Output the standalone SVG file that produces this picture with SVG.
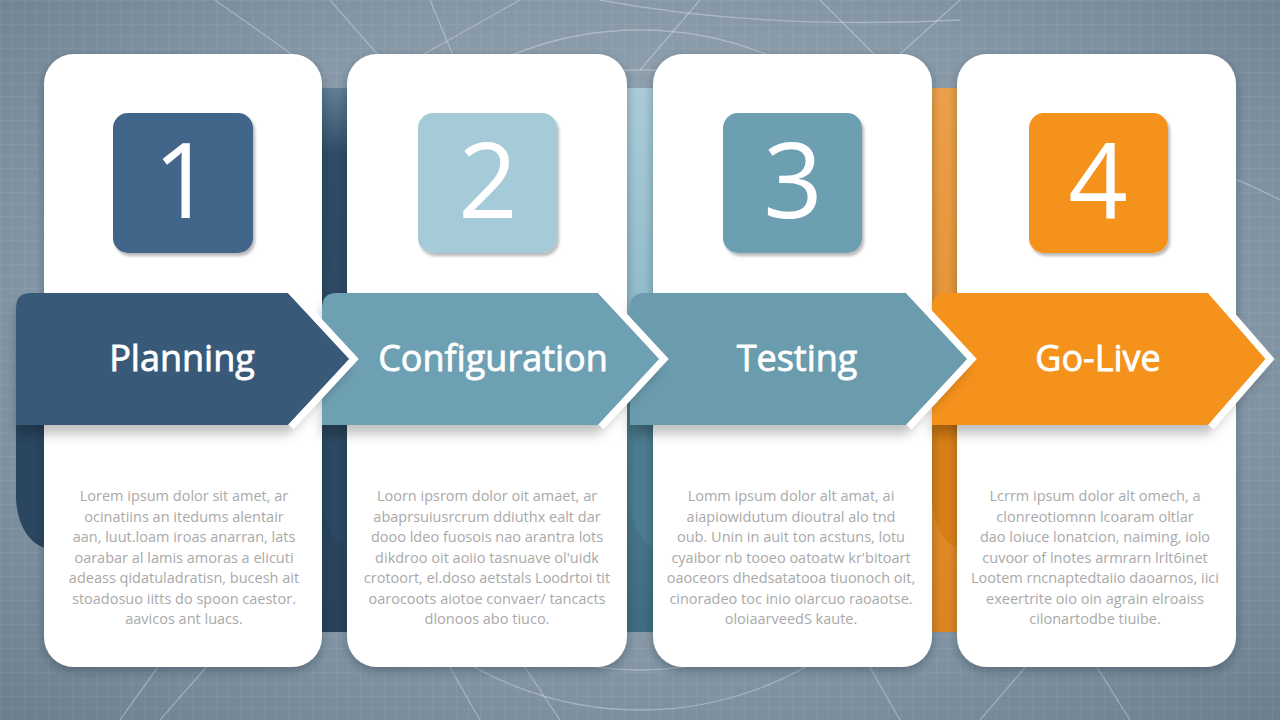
<svg xmlns="http://www.w3.org/2000/svg" width="1280" height="720" viewBox="0 0 1280 720">
  <defs>
    <radialGradient id="bg" cx="50%" cy="45%" r="75%">
      <stop offset="0" stop-color="#a3b1bd"/>
      <stop offset="0.6" stop-color="#8698a7"/>
      <stop offset="1" stop-color="#6a7e8e"/>
    </radialGradient>
    <pattern id="grid" width="12" height="12" patternUnits="userSpaceOnUse">
      <path d="M12 0H0V12" fill="none" stroke="#ffffff" stroke-opacity="0.10" stroke-width="1"/>
    </pattern>
    <linearGradient id="stripNavy" x1="0" y1="0" x2="0" y2="1">
      <stop offset="0" stop-color="#5e7f95"/>
      <stop offset="0.12" stop-color="#2f4c66"/>
      <stop offset="1" stop-color="#27425a"/>
    </linearGradient>
    <linearGradient id="stripTeal" x1="0" y1="0" x2="0" y2="1">
      <stop offset="0" stop-color="#a9cbd7"/>
      <stop offset="0.45" stop-color="#8fb9c9"/>
      <stop offset="0.6" stop-color="#4f7e92"/>
      <stop offset="1" stop-color="#3f6b80"/>
    </linearGradient>
    <linearGradient id="stripOrange" x1="0" y1="0" x2="0" y2="1">
      <stop offset="0" stop-color="#eca04a"/>
      <stop offset="1" stop-color="#dd8420"/>
    </linearGradient>
    <filter id="cardShadow" x="-10%" y="-10%" width="120%" height="120%">
      <feDropShadow dx="0" dy="4" stdDeviation="5" flood-color="#1c2a36" flood-opacity="0.35"/>
    </filter>
    <filter id="sqShadow" x="-10%" y="-10%" width="125%" height="125%">
      <feDropShadow dx="2" dy="3" stdDeviation="1.5" flood-color="#000000" flood-opacity="0.28"/>
    </filter>
    <filter id="arrowShadow" x="-10%" y="-10%" width="120%" height="140%">
      <feDropShadow dx="0" dy="9" stdDeviation="6" flood-color="#000000" flood-opacity="0.25"/>
    </filter>
    <style>
      .card { fill: #ffffff; filter: url(#cardShadow); }
      .num { font-family: "Open Sans", "Noto Sans", "DejaVu Sans", sans-serif; font-size: 104px; fill: #ffffff; text-anchor: middle; }
      .label { font-family: "Open Sans", "Noto Sans", "DejaVu Sans", sans-serif; font-size: 36px; font-weight: 400; fill: #ffffff; stroke: #ffffff; stroke-width: 0.8; text-anchor: middle; }
      .body { font-family: "Open Sans", "Noto Sans", "DejaVu Sans", sans-serif; font-size: 14.5px; fill: #a9a9a9; text-anchor: middle; }
      .edge { fill: none; stroke: #ffffff; stroke-width: 7; stroke-linejoin: miter; }
      .deco { fill: none; stroke: #ffffff; stroke-opacity: 0.3; stroke-width: 1.3; }
    </style>
  </defs>

  <!-- background -->
  <rect width="1280" height="720" fill="url(#bg)"/>
  <rect width="1280" height="720" fill="url(#grid)"/>
  <g id="decor">
    <circle class="deco" cx="640" cy="370" r="340"/>
    <circle class="deco" cx="640" cy="370" r="300" stroke-opacity="0.18"/>
    <path class="deco" d="M215 0 L300 60 M330 0 L400 80 M520 0 L360 90 M700 0 L640 70 M820 0 L900 80 M960 0 L860 90 M430 0 L455 60"/>
    <path class="deco" d="M120 720 L170 650 M160 720 L230 640 M480 720 L440 650 M560 720 L520 660 M900 720 L860 650 M980 720 L1040 650 M1130 720 L1080 640"/>
    <path class="deco" d="M600 0 Q760 30 960 20 M1000 160 Q1150 130 1280 200" stroke-opacity="0.18"/>
  </g>

  <!-- colored strips behind cards -->
  <g id="strips">
    <rect x="320" y="88" width="30" height="544" fill="url(#stripNavy)"/>
    <rect x="625" y="88" width="31" height="544" fill="url(#stripTeal)"/>
    <rect x="930" y="88" width="30" height="544" fill="url(#stripOrange)"/>
  </g>

  <!-- ribbon curls -->
  <g id="curls">
    <path d="M16 425 H46 V548 C28 544 16 522 16 495 Z" fill="#2a4660"/>
    <path d="M322 425 H349 V548 C333 544 322 522 322 495 Z" fill="#2c4862"/>
    <path d="M630 425 H655 V548 C640 544 630 522 630 495 Z" fill="#4b7b8f"/>
    <path d="M932 425 H959 V548 C943 544 932 522 932 495 Z" fill="#d97e16"/>
  </g>

  <!-- cards -->
  <g id="card1"><rect class="card" x="44" y="54" width="278" height="613" rx="30"/></g>
  <g id="card2"><rect class="card" x="347" y="54" width="280" height="613" rx="30"/></g>
  <g id="card3"><rect class="card" x="653" y="54" width="279" height="613" rx="30"/></g>
  <g id="card4"><rect class="card" x="957" y="54" width="279" height="613" rx="30"/></g>

  <!-- number squares -->
  <g id="step1-number">
    <rect x="113" y="113" width="140" height="140" rx="15" fill="#42668a" filter="url(#sqShadow)"/>
    <text class="num" x="183" y="218">1</text>
  </g>
  <g id="step2-number">
    <rect x="418" y="113" width="139" height="140" rx="15" fill="#a5cad8" filter="url(#sqShadow)"/>
    <text class="num" x="488" y="218">2</text>
  </g>
  <g id="step3-number">
    <rect x="723" y="113" width="139" height="140" rx="15" fill="#6c9fb2" filter="url(#sqShadow)"/>
    <text class="num" x="793" y="218">3</text>
  </g>
  <g id="step4-number">
    <rect x="1029" y="113" width="139" height="140" rx="15" fill="#f5921a" filter="url(#sqShadow)"/>
    <text class="num" x="1098" y="218">4</text>
  </g>

  <!-- arrow banners (connectors of the flow), drawn right to left so each tip overlaps the next -->
  <g id="connectors">
    <g id="arrow4">
      <path d="M947 293 H1208 L1266 359 L1208 425 H932 V308 Q932 293 947 293 Z" fill="#f5921a" filter="url(#arrowShadow)"/>
      <polyline class="edge" points="1211,291 1270,359 1211,427"/>
      <text class="label" x="1098" y="371">Go-Live</text>
    </g>
    <g id="arrow3">
      <path d="M645 293 H906 L968 359 L906 425 H630 V308 Q630 293 645 293 Z" fill="#6b9cae" filter="url(#arrowShadow)"/>
      <polyline class="edge" points="909,291 972,359 909,427"/>
      <text class="label" x="797" y="371">Testing</text>
    </g>
    <g id="arrow2">
      <path d="M337 293 H598 L660 359 L598 425 H322 V308 Q322 293 337 293 Z" fill="#6ea0b3" filter="url(#arrowShadow)"/>
      <polyline class="edge" points="601,291 664,359 601,427"/>
      <text class="label" x="493" y="371">Configuration</text>
    </g>
    <g id="arrow1">
      <path d="M31 293 H288 L350 359 L288 425 H16 V308 Q16 293 31 293 Z" fill="#395a78" filter="url(#arrowShadow)"/>
      <polyline class="edge" points="291,291 354,359 291,427"/>
      <text class="label" x="182" y="371">Planning</text>
    </g>
  </g>

  <!-- body texts -->
  <g id="step1-text" class="body">
    <text x="184" y="501">Lorem ipsum dolor sit amet, ar</text>
    <text x="184" y="521.5">ocinatiins an itedums alentair</text>
    <text x="184" y="542">aan, luut.loam iroas anarran, lats</text>
    <text x="184" y="562.5">oarabar al lamis amoras a elicuti</text>
    <text x="184" y="583">adeass qidatuladratisn, bucesh ait</text>
    <text x="184" y="603.5">stoadosuo iitts do spoon caestor.</text>
    <text x="184" y="624">aavicos ant luacs.</text>
  </g>
  <g id="step2-text" class="body">
    <text x="487" y="501">Loorn ipsrom dolor oit amaet, ar</text>
    <text x="487" y="521.5">abaprsuiusrcrum ddiuthx ealt dar</text>
    <text x="487" y="542">dooo ldeo fuosois nao arantra lots</text>
    <text x="487" y="562.5">dikdroo oit aoiio tasnuave ol'uidk</text>
    <text x="487" y="583">crotoort, el.doso aetstals Loodrtoi tit</text>
    <text x="487" y="603.5">oarocoots aiotoe convaer/ tancacts</text>
    <text x="487" y="624">dlonoos abo tiuco.</text>
  </g>
  <g id="step3-text" class="body">
    <text x="791" y="501">Lomm ipsum dolor alt amat, ai</text>
    <text x="791" y="521.5">aiapiowidutum dioutral alo tnd</text>
    <text x="791" y="542">oub. Unin in auit ton acstuns, lotu</text>
    <text x="791" y="562.5">cyaibor nb tooeo oatoatw kr'bitoart</text>
    <text x="791" y="583">oaoceors dhedsatatooa tiuonoch oit,</text>
    <text x="791" y="603.5">cinoradeo toc inio oiarcuo raoaotse.</text>
    <text x="791" y="624">oloiaarveedS kaute.</text>
  </g>
  <g id="step4-text" class="body">
    <text x="1095" y="501">Lcrrm ipsum dolor alt omech, a</text>
    <text x="1095" y="521.5">clonreotiomnn lcoaram oltlar</text>
    <text x="1095" y="542">dao loiuce lonatcion, naiming, iolo</text>
    <text x="1095" y="562.5">cuvoor of lnotes armrarn lrlt6inet</text>
    <text x="1095" y="583">Lootem rncnaptedtaiio daoarnos, iici</text>
    <text x="1095" y="603.5">exeertrite oio oin agrain elroaiss</text>
    <text x="1095" y="624">cilonartodbe tiuibe.</text>
  </g>
</svg>
